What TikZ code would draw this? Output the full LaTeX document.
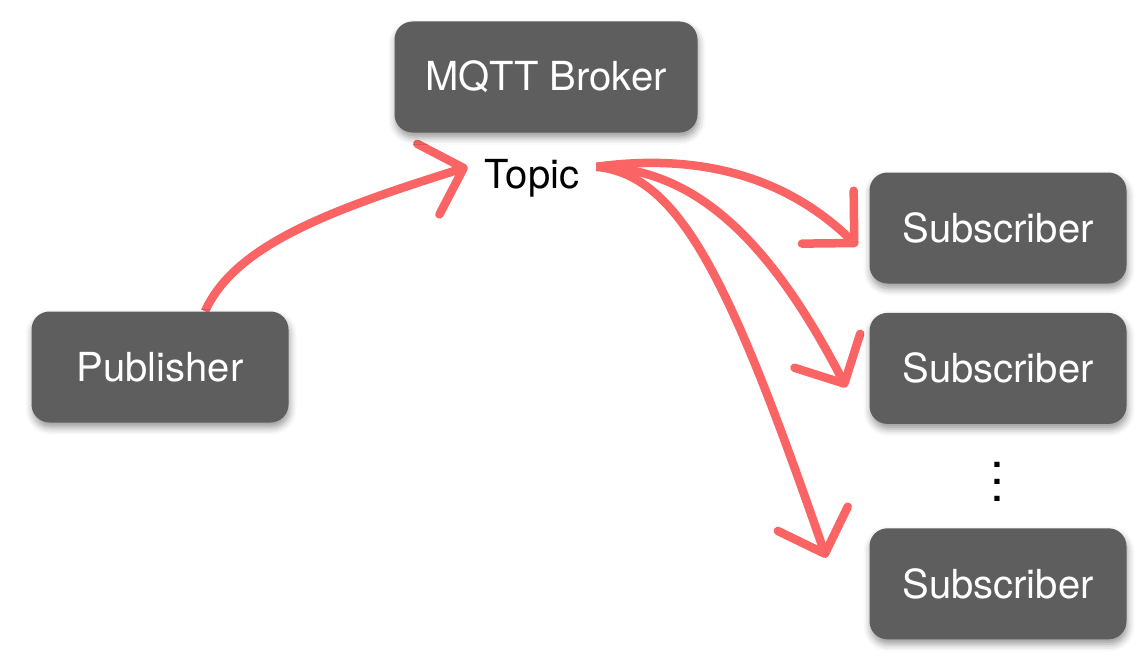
\documentclass[tikz,border=0pt]{standalone}
\usepackage{fontspec}
\setmainfont{TeX Gyre Heros}
\usetikzlibrary{arrows.meta,positioning,shadows.blur,backgrounds}
\definecolor{boxgray}{RGB}{94,94,94}
\definecolor{linkred}{RGB}{250,100,100}

\begin{document}
\begin{tikzpicture}[
    x=1pt, y=-1pt,
    label font/.style={font=\fontsize{40}{48}\selectfont},
    block/.style={label font, fill=boxgray, text=white, rounded corners=18pt, minimum width=257pt, minimum height=111pt,
        blur shadow={shadow xshift=1pt, shadow yshift=-5pt, shadow blur radius=7pt, shadow opacity=40}},
    arrow/.style={-{Straight Barb[length=37pt, width=74pt, round]}, line width=8.5pt, draw=linkred},
]
    \useasboundingbox (0,0) rectangle (1148,669);

    \node[block, minimum width=303pt] (broker) at (546,77) {MQTT Broker};
    \node[label font, anchor=base, inner xsep=17pt] (topic) at (532,188) {Topic};
    \node[block] (pub) at (160,367) {Publisher};
    \node[block] (sub1) at (998,228) {Subscriber};
    \node[block, below=29pt of sub1] (sub2) {Subscriber};
    \node[block, below=104pt of sub2] (sub3) {Subscriber};
    \node[font=\fontsize{50}{60}\selectfont] (dots) at (997,482)
        {\vbox{\baselineskip=17pt\hbox{.}\hbox{.}\hbox{.}}};

    \coordinate (topic in) at ([yshift=11pt]topic.west);
    \coordinate (topic out) at ([yshift=11pt]topic.east);
    \coordinate (sub1 in) at ([shift={(-12pt,-18pt)}]sub1.west);
    \coordinate (sub2 in) at ([shift={(-23pt,-19pt)}]sub2.west);
    \coordinate (sub3 in) at ([shift={(-43pt,26pt)}]sub3.west);

    \begin{scope}[on background layer]
        \draw[arrow] ([xshift=45pt]pub.north) .. controls (235,245) and (330,210) .. (topic in);
        \draw[arrow] (topic out) .. controls (720,150) and (800,190) .. (sub1 in);
        \draw[arrow] (topic out) .. controls (695,168) and (770,240) .. (sub2 in);
        \draw[arrow] (topic out) .. controls (680,175) and (730,280) .. (sub3 in);
    \end{scope}
\end{tikzpicture}
\end{document}
